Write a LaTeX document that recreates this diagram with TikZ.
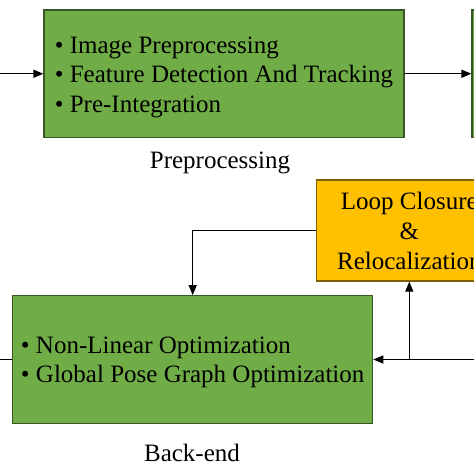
\documentclass[tikz,border=0pt]{standalone}
\usepackage{fontspec}
\setmainfont{Liberation Serif}
\usetikzlibrary{arrows.meta}
\definecolor{boxgreen}{HTML}{70AD47}
\definecolor{boxgreenedge}{HTML}{385723}
\definecolor{boxorange}{HTML}{FFC000}
\definecolor{boxorangeedge}{HTML}{7F6000}
\tikzset{
  gbox/.style={rectangle, draw=boxgreenedge, fill=boxgreen, line width=1.2pt,
    minimum width=360pt, minimum height=127.5pt, align=left,
    inner sep=0pt, font=\fontsize{25}{29.5}\selectfont},
  obox/.style={rectangle, draw=boxorangeedge, fill=boxorange, line width=1.2pt,
    minimum width=185.3pt, minimum height=101pt, align=center, inner sep=0pt,
    font=\fontsize{25}{30}\selectfont},
  lbl/.style={font=\fontsize{25}{30}\selectfont, inner sep=0pt},
  conn/.style={line width=1.2pt, black},
  arr/.style={conn, -{Triangle[length=10pt,width=8pt]}}
}
\begin{document}
\begin{tikzpicture}[x=1pt,y=-1pt]
\useasboundingbox (0,0) rectangle (474,474);
\clip (0,0) rectangle (474,474);
\node[gbox] (pre) at (224,73.75) {\rule{0pt}{23.2pt}\textbullet\ Image Preprocessing\\\textbullet\ Feature Detection And Tracking\\\textbullet\ Pre-Integration};
\node[gbox] (fe) at (652,73.75) {};
\node[lbl] (prelbl) at (220,163) {Preprocessing};
\node[obox] (lc) at (409.3,230.5) {Loop Closure\\\&\\Relocalization};
\node[gbox, font=\fontsize{25}{28.5}\selectfont] (be) at (192.7,359.5) {\rule{0pt}{22.2pt}\textbullet\ Non-Linear Optimization\\\textbullet\ Global Pose Graph Optimization};
\node[lbl] (belbl) at (192,453) {Back-end};
\coordinate (in1) at (-2,73.75);
\coordinate (rin) at (480,359.5);
\coordinate (split) at (409.3,359.5);
\coordinate (lout) at (-2,359.5);
\draw[arr] (in1) -- (pre.west);
\draw[arr] (pre.east) -- (fe.west);
\draw[arr] (lc.west) -| (be.north);
\draw[arr] (rin) -- (be.east);
\draw[arr] (split) -- (lc.south);
\draw[conn] (be.west) -- (lout);
\end{tikzpicture}
\end{document}
